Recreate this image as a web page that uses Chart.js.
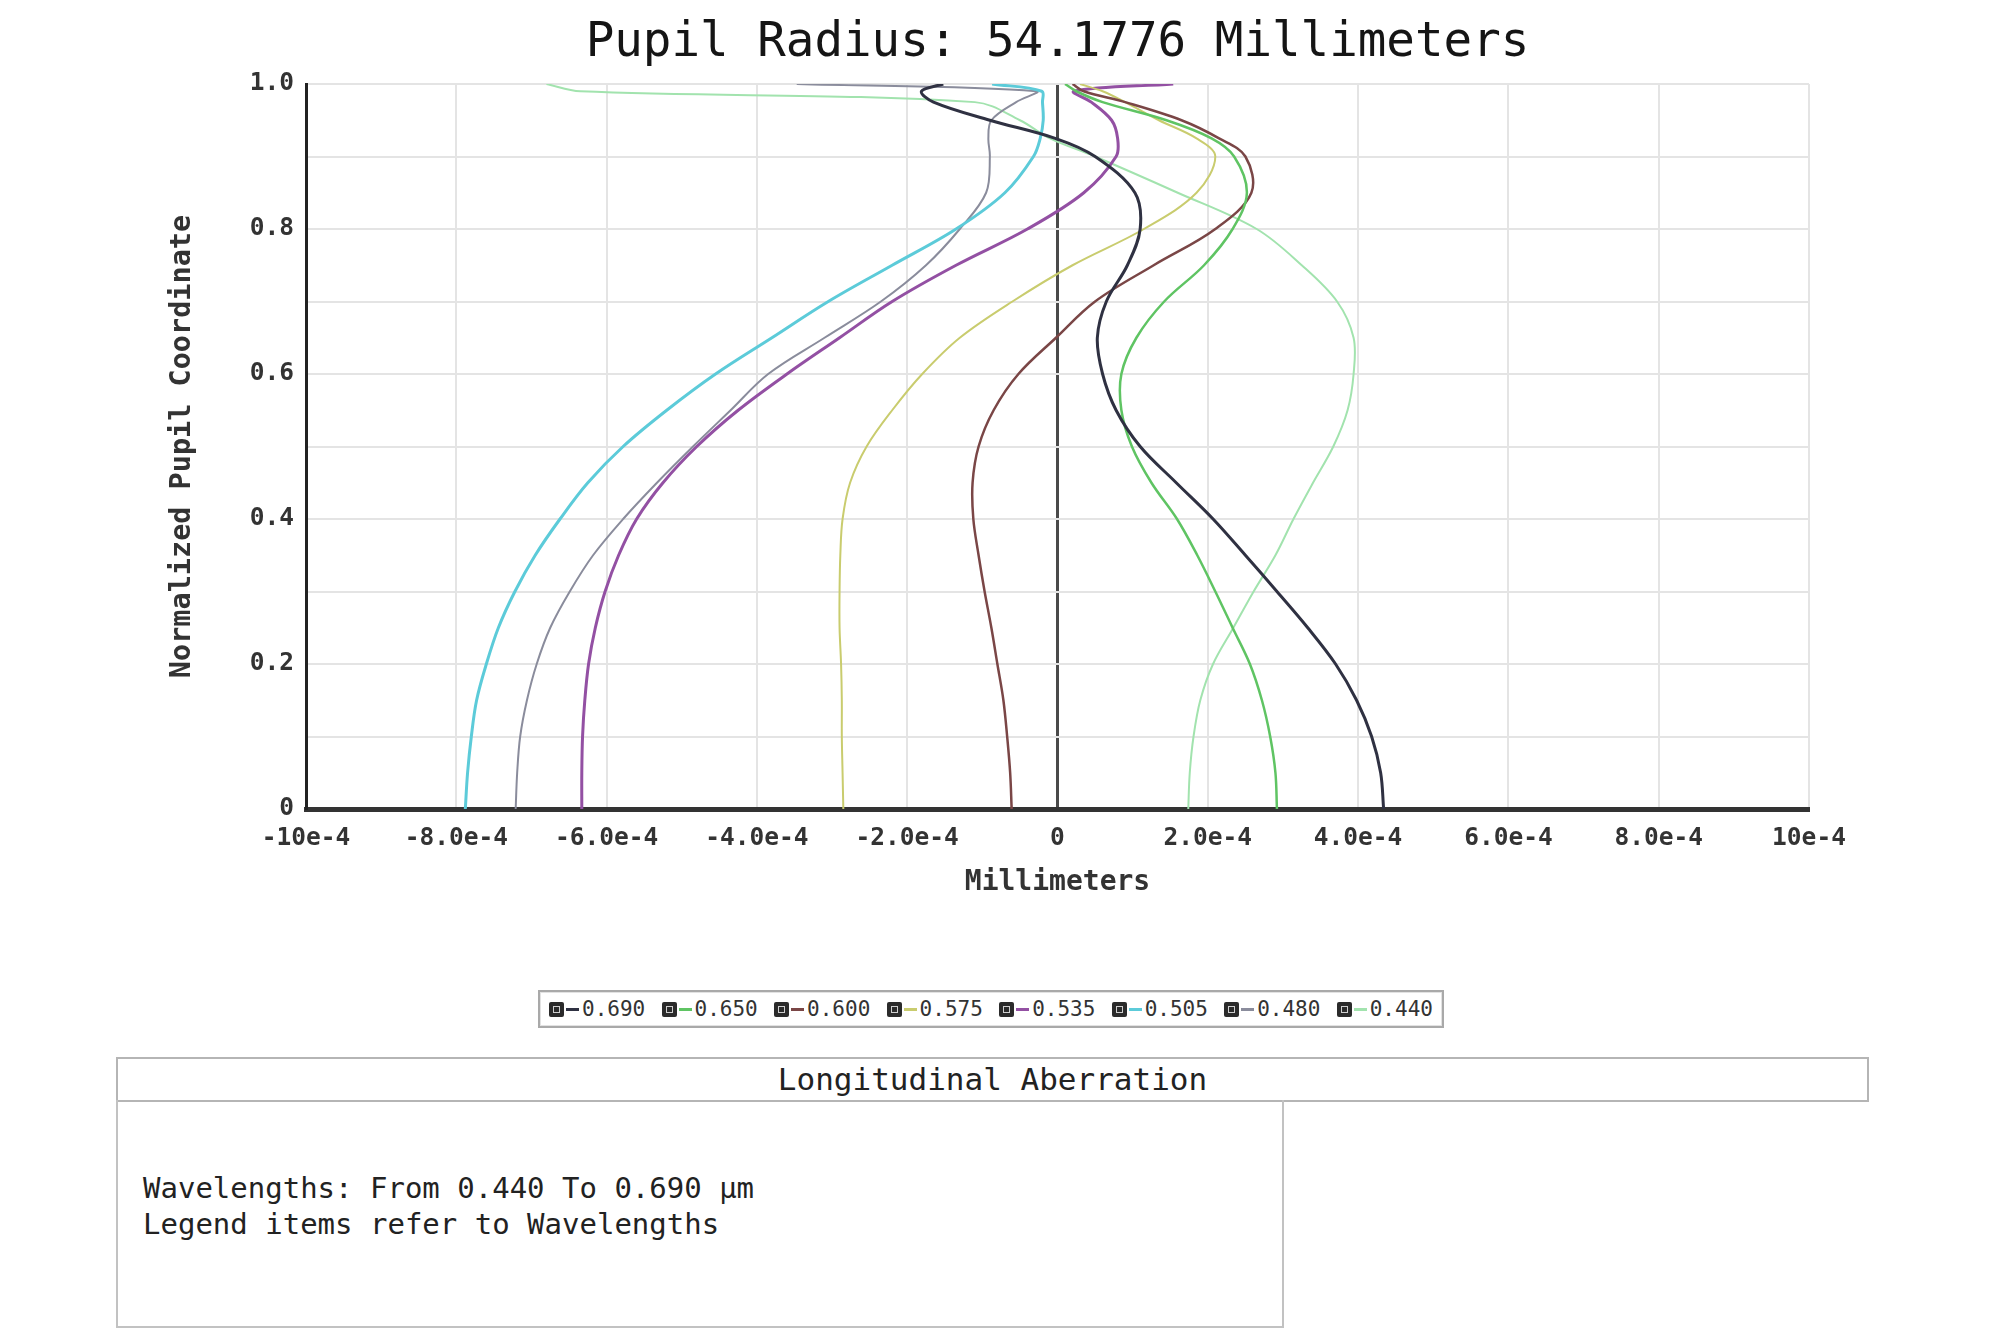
<!DOCTYPE html>
<html>
<head>
<meta charset="utf-8">
<script src="https://cdn.jsdelivr.net/npm/chart.js@4.4.1/dist/chart.umd.min.js"></script>
<style>
html,body{margin:0;padding:0;background:#fff;}
#page{position:relative;width:2000px;height:1333px;overflow:hidden;background:#fff;font-family:'DejaVu Sans Mono',monospace;color:#222;}
#chart{position:absolute;left:0;top:0;}
#legend{position:absolute;left:538px;top:990px;width:884px;height:34px;border:2px solid #a9a9a9;box-shadow:inset 0 0 0 1px #e2e2e2;display:flex;align-items:center;justify-content:space-between;padding:0 9px;box-sizing:content-box;}
.item{display:flex;align-items:center;font-size:21px;color:#333;}
.icon{width:15px;height:15px;background:#2b2b2b;border-radius:2px;position:relative;margin-right:2px;}
.icon::after{content:'';position:absolute;left:4px;top:4px;width:7px;height:7px;border:1px solid #cfcfcf;box-sizing:border-box;}
.swatch{width:13px;height:3px;margin-right:3px;}
#header{position:absolute;left:116px;top:1057px;width:1749px;height:41px;border:2px solid #b5b5b5;font-size:31px;line-height:41px;text-align:center;color:#222;}
#body{position:absolute;left:116px;top:1100px;width:1164px;height:226px;border:2px solid #c2c2c2;border-top:none;font-size:29px;line-height:36px;color:#222;}
#body .txt{position:absolute;left:25px;top:70px;white-space:pre;}
</style>
</head>
<body>
<div id="page">
  <canvas id="chart" width="2000" height="960"></canvas>
  <div id="legend"></div>
  <div id="header">Longitudinal Aberration</div>
  <div id="body"><div class="txt">Wavelengths: From 0.440 To 0.690 µm
Legend items refer to Wavelengths</div></div>
</div>
<script>
// Normalized pupil coordinate (y) shared by all curves
const pupil = [0, 0.05, 0.1, 0.15, 0.2, 0.25, 0.3, 0.35, 0.4, 0.45, 0.5, 0.55, 0.6, 0.65, 0.7, 0.75, 0.8, 0.85, 0.9, 0.925, 0.95, 0.975, 0.99, 1.0];
// Longitudinal aberration per wavelength, in units of 1e-4 mm
const ab690 = [4.34, 4.30, 4.18, 3.98, 3.70, 3.33, 2.92, 2.50, 2.07, 1.58, 1.10, 0.78, 0.60, 0.53, 0.65, 0.93, 1.10, 1.03, 0.50, -0.03, -0.90, -1.65, -1.81, -1.52];
const ab650 = [2.92, 2.90, 2.83, 2.72, 2.56, 2.33, 2.10, 1.86, 1.59, 1.25, 0.99, 0.85, 0.85, 1.05, 1.42, 1.95, 2.33, 2.52, 2.35, 2.05, 1.45, 0.60, 0.25, 0.10];
const ab600 = [-0.61, -0.63, -0.67, -0.72, -0.80, -0.88, -0.97, -1.05, -1.12, -1.13, -1.05, -0.85, -0.52, -0.02, 0.50, 1.28, 2.10, 2.58, 2.50, 2.15, 1.65, 0.90, 0.35, 0.20];
const ab575 = [-2.85, -2.86, -2.87, -2.87, -2.88, -2.90, -2.90, -2.89, -2.86, -2.76, -2.54, -2.20, -1.80, -1.30, -0.60, 0.20, 1.15, 1.85, 2.10, 1.85, 1.35, 0.90, 0.60, 0.30];
const ab535 = [-6.33, -6.33, -6.32, -6.29, -6.24, -6.15, -6.02, -5.84, -5.60, -5.25, -4.80, -4.25, -3.60, -2.90, -2.20, -1.35, -0.40, 0.35, 0.78, 0.80, 0.72, 0.45, 0.22, 1.54];
const ab505 = [-7.88, -7.85, -7.80, -7.73, -7.60, -7.44, -7.22, -6.95, -6.62, -6.25, -5.78, -5.20, -4.55, -3.80, -3.05, -2.20, -1.35, -0.70, -0.32, -0.23, -0.19, -0.20, -0.21, -0.87];
const ab480 = [-7.21, -7.19, -7.15, -7.06, -6.93, -6.75, -6.49, -6.18, -5.78, -5.33, -4.85, -4.35, -3.85, -3.10, -2.35, -1.75, -1.30, -0.95, -0.90, -0.92, -0.88, -0.55, -0.28, -3.47];
const ab440 = [1.74, 1.76, 1.81, 1.90, 2.07, 2.34, 2.61, 2.90, 3.14, 3.40, 3.67, 3.86, 3.94, 3.94, 3.72, 3.25, 2.65, 1.60, 0.50, -0.10, -0.50, -1.10, -6.35, -6.80];

const wavelengths = ['0.690', '0.650', '0.600', '0.575', '0.535', '0.505', '0.480', '0.440'];
const seriesValues = [ab690, ab650, ab600, ab575, ab535, ab505, ab480, ab440];
const xTickLabels = ['-10e-4', '-8.0e-4', '-6.0e-4', '-4.0e-4', '-2.0e-4', '0', '2.0e-4', '4.0e-4', '6.0e-4', '8.0e-4', '10e-4'];
const yTickLabels = ['0', '', '0.2', '', '0.4', '', '0.6', '', '0.8', '', '1.0'];

// styling
const colors = ['#2f3142', '#5fc463', '#7a4646', '#c9cc6e', '#9350a3', '#5ccbd9', '#8a8c9c', '#a2e3ae'];
const widths = [3, 2.5, 2.5, 2, 3, 3, 2, 2];

const datasets = seriesValues.map((vals, i) => ({
  label: wavelengths[i],
  data: vals.map((v, k) => ({x: v, y: pupil[k]})),
  showLine: true,
  borderColor: colors[i],
  backgroundColor: colors[i],
  borderWidth: widths[i],
  pointRadius: 0,
  tension: 0.35,
  fill: false
}));

const tickFont = {family: 'DejaVu Sans Mono', size: 24.5, weight: 'bold'};

new Chart(document.getElementById('chart'), {
  type: 'scatter',
  data: {datasets},
  options: {
    responsive: false,
    animation: false,
    layout: {padding: {left: 162, right: 191, top: 0, bottom: 0}},
    plugins: {
      legend: {display: false},
      tooltip: {enabled: false},
      title: {
        display: true,
        text: 'Pupil Radius: 54.1776 Millimeters',
        fullSize: false,
        color: '#151515',
        font: {family: 'DejaVu Sans Mono', size: 47.5, weight: 'normal'},
        padding: {top: 15, bottom: 12}
      }
    },
    scales: {
      x: {
        type: 'linear',
        min: -10, max: 10,
        afterFit: s => { s.height = 151; },
        ticks: {
          stepSize: 2,
          padding: 15,
          color: '#333',
          font: tickFont,
          maxRotation: 0,
          autoSkip: false,
          callback: (v, i) => xTickLabels[i]
        },
        grid: {
          drawTicks: false,
          color: c => (c.tick && Math.abs(c.tick.value) < 1e-9) ? '#4a4a4a' : '#e4e4e4',
          lineWidth: c => (c.tick && Math.abs(c.tick.value) < 1e-9) ? 3 : 2
        },
        border: {color: '#333', width: 5},
        title: {
          display: true,
          text: 'Millimeters',
          color: '#333',
          font: {family: 'DejaVu Sans Mono', size: 28, weight: 'bold'},
          padding: {top: 4, bottom: 60}
        }
      },
      y: {
        type: 'linear',
        min: 0, max: 1,
        afterFit: s => { s.width = 144; },
        ticks: {
          stepSize: 0.1,
          padding: 12,
          color: '#333',
          font: tickFont,
          autoSkip: false,
          callback: (v, i) => yTickLabels[i]
        },
        grid: {drawTicks: false, color: '#e4e4e4', lineWidth: 2},
        border: {color: '#222', width: 3},
        title: {
          display: true,
          text: 'Normalized Pupil Coordinate',
          color: '#333',
          font: {family: 'DejaVu Sans Mono', size: 28.5, weight: 'bold'},
          padding: {top: 3, bottom: 4}
        }
      }
    }
  }
});

// HTML legend built from the series arrays
const legendEl = document.getElementById('legend');
wavelengths.forEach((w, i) => {
  const it = document.createElement('div');
  it.className = 'item';
  it.innerHTML = '<span class="icon"></span><span class="swatch" style="background:' + colors[i] + '"></span><span>' + w + '</span>';
  legendEl.appendChild(it);
});
</script>
</body>
</html>
